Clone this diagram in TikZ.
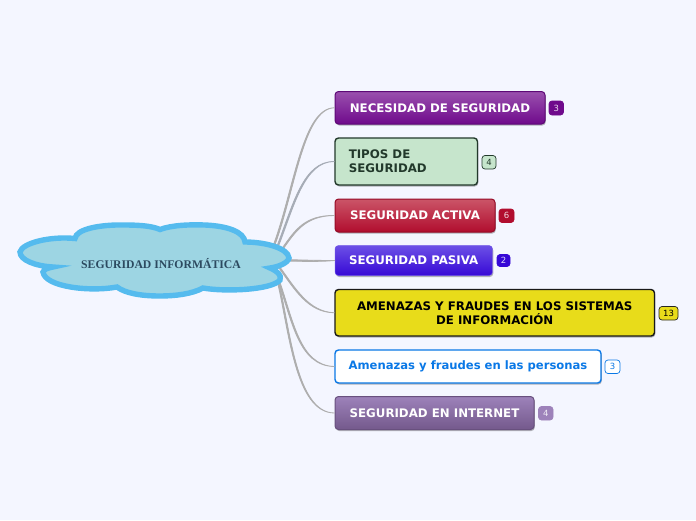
\documentclass[tikz,border=0pt]{standalone}
\usepackage{fontspec}
\setmainfont{DejaVu Sans}
\newfontfamily\cloudfont{Liberation Serif}
\usetikzlibrary{shadows}
\definecolor{bgc}{HTML}{F4F6FF}
\definecolor{cloudfill}{HTML}{9DD5E3}
\definecolor{cloudline}{HTML}{55BBEE}
\definecolor{connc}{HTML}{AEAEAE}
\definecolor{connb}{HTML}{A6ACB6}
\definecolor{cloudtext}{HTML}{2C4A60}
\definecolor{purpleA}{HTML}{6F0A8C}\definecolor{purpleB}{HTML}{9A50AE}
\definecolor{greenA}{HTML}{C6E5CC}\definecolor{greenD}{HTML}{22392B}
\definecolor{redA}{HTML}{B10D2E}\definecolor{redB}{HTML}{CB5568}
\definecolor{blueA}{HTML}{3608D6}\definecolor{blueB}{HTML}{6C50E6}
\definecolor{yellowA}{HTML}{E8DC1A}
\definecolor{linkblue}{HTML}{0A78E6}
\definecolor{mauveA}{HTML}{74598C}\definecolor{mauveB}{HTML}{9D82BA}
\tikzset{
  x=1pt,y=-1pt,
  box/.style={rounded corners=3.5pt,line width=1pt,inner sep=0pt,
    font=\fontsize{11.8}{14}\selectfont\bfseries,
    drop shadow={shadow xshift=.8pt,shadow yshift=-1.5pt,opacity=.28,fill=black}},
  badge/.style={rounded corners=3pt,line width=.7pt,inner sep=0pt,
    font=\fontsize{8.5}{10}\selectfont},
  conn/.style={draw=connc,fill=connc,line width=.8pt,line join=round},
}
% \boxat{name}{left}{top}{right}{bottom}{style}{text}
\newcommand{\boxat}[7]{%
  \pgfmathsetmacro{\bw}{#4-#2}\pgfmathsetmacro{\bh}{#5-#3}%
  \node[box,#6,minimum width=\bw pt,minimum height=\bh pt] (#1) at ({(#2+#4)/2},{(#3+#5)/2}) {#7};}
\newcommand{\badgeat}[7]{%
  \pgfmathsetmacro{\bw}{#4-#2}\pgfmathsetmacro{\bh}{#5-#3}%
  \node[badge,#6,minimum width=\bw pt,minimum height=\bh pt] (#1) at ({(#2+#4)/2},{(#3+#5)/2}) {#7};}
% tapered connector: #1 style, #2 root coordinate, #3 target node, #4 #5 control points, #6 root width offset
\newcommand{\taper}[6]{%
  \draw[conn,#1] (#2) .. controls (#4) and (#5) .. (#3.west)
    .. controls ([shift={(#6)}]#5) and ([shift={(#6)}]#4) .. ([shift={(#6)}]#2) -- cycle;}
\begin{document}
\begin{tikzpicture}
\useasboundingbox (0,0) rectangle (696,520);
\fill[bgc] (0,0) rectangle (696,520);

\coordinate (rootA) at (273,246);
\coordinate (rootB) at (277,246);
\coordinate (rootC) at (283,247);
\coordinate (rootD) at (284,259.5);
\coordinate (rootE) at (279,268);
\coordinate (rootF) at (277,278);
\coordinate (rootG) at (277,280);
\coordinate (ca1) at (294,190);\coordinate (ca2) at (302,108);
\coordinate (cb1) at (293,205);\coordinate (cb2) at (303,161);
\coordinate (cc1) at (295,230);\coordinate (cc2) at (305,215);
\coordinate (cd1) at (300,260);\coordinate (cd2) at (320,260.5);
\coordinate (ce1) at (295,290);\coordinate (ce2) at (308,312.5);
\coordinate (cf1) at (292,320);\coordinate (cf2) at (298,366);
\coordinate (cg1) at (289,330);\coordinate (cg2) at (295,413);

\boxat{n1}{335}{91.5}{545}{124}{draw=purpleA!85!black,top color=purpleB,bottom color=purpleA,text=white}{NECESIDAD DE SEGURIDAD}
\boxat{n2}{335}{138}{477.5}{185}{draw=greenD,fill=greenA,text=greenD,line width=1.4pt,align=left}{\makebox[115pt][l]{TIPOS DE}\\\makebox[115pt][l]{SEGURIDAD}}
\boxat{n3}{335}{199}{495}{232}{draw=redA!85!black,top color=redB,bottom color=redA,text=white}{SEGURIDAD ACTIVA}
\boxat{n4}{335}{245.5}{492.5}{275.5}{draw=blueB,top color=blueB,bottom color=blueA,text=white,line width=.5pt}{SEGURIDAD PASIVA}
\boxat{n5}{335}{289.5}{654.5}{336}{draw=black!90,fill=yellowA,text=black,line width=1.4pt,align=center}{AMENAZAS Y FRAUDES EN LOS SISTEMAS\\DE INFORMACIÓN}
\boxat{n6}{335}{350}{601}{383}{draw=linkblue,fill=white,text=linkblue,line width=1.4pt,font=\fontsize{11.6}{14}\selectfont\bfseries}{\raisebox{-1.2pt}{Amenazas y fraudes en las personas}}
\boxat{n7}{335}{396.5}{534}{429.5}{draw=mauveA!90!black,top color=mauveB,bottom color=mauveA,text=white}{SEGURIDAD EN INTERNET}

\taper{}{rootA}{n1}{ca1}{ca2}{1.3,.6}
\taper{draw=connb,fill=connb}{rootB}{n2}{cb1}{cb2}{1.3,.6}
\taper{}{rootC}{n3}{cc1}{cc2}{1,.8}
\taper{}{rootD}{n4}{cd1}{cd2}{0,1.4}
\taper{}{rootE}{n5}{ce1}{ce2}{1,-.8}
\taper{}{rootF}{n6}{cf1}{cf2}{1.3,-.5}
\taper{}{rootG}{n7}{cg1}{cg2}{1.3,-.4}

\draw[line width=5.4pt,draw=cloudline,fill=cloudfill,line join=miter]
  (20,252) .. controls (22,243) and (50,236) .. (75,238.5)
  .. controls (76,229) and (100,224.5) .. (124,225)
  .. controls (140,225) and (152,226) .. (160,229.5)
  .. controls (172,225) and (190,224.5) .. (205,225)
  .. controls (228,226) and (244,232) .. (245,242)
  .. controls (265,242) and (288,248) .. (289,258)
  .. controls (288,263) and (278,267) .. (270,268)
  .. controls (277,271) and (282,275) .. (280,280)
  .. controls (272,290) and (225,292) .. (203,288)
  .. controls (192,294) and (175,296) .. (160,296)
  .. controls (140,296) and (125,293) .. (117,287)
  .. controls (90,292) and (45,287) .. (43,272)
  .. controls (44,269) and (48,268) .. (53,267)
  .. controls (35,266) and (20,260) .. (20,252) -- cycle;
\node[inner sep=0pt,text=cloudtext,font=\cloudfont\fontsize{11.7}{14}\selectfont\bfseries] (root) at (161,264) {SEGURIDAD INFORMÁTICA};

\badgeat{b1}{549}{101}{563.5}{115}{draw=purpleA,fill=purpleA,text=white!85!purpleA}{3}
\badgeat{b2}{482}{155.5}{496}{169}{draw=greenD,fill=greenA,text=greenD}{4}
\badgeat{b3}{499}{209}{514}{222.5}{draw=redA,fill=redA,text=white!85!redA}{6}
\badgeat{b4}{497}{254.5}{510}{266.5}{draw=blueA,fill=blueA,text=white!85!blueA}{2}
\badgeat{b5}{659}{306.5}{678}{320}{draw=black!85,fill=yellowA,text=black}{13}
\badgeat{b6}{605}{360}{620}{373.5}{draw=linkblue,fill=white,text=linkblue}{3}
\badgeat{b7}{538.5}{406.5}{553}{420}{draw=mauveB,fill=mauveB,text=white!85!mauveB}{4}
\end{tikzpicture}
\end{document}
